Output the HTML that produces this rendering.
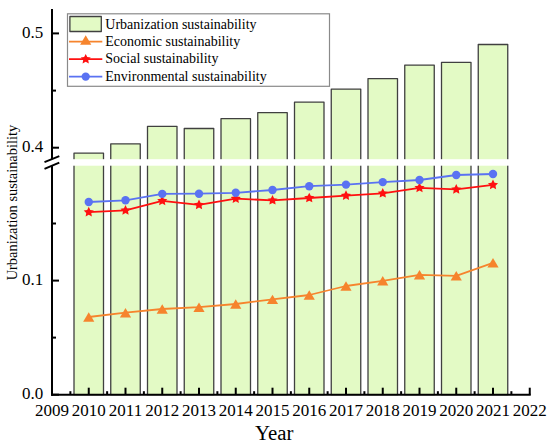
<!DOCTYPE html>
<html><head><meta charset="utf-8"><style>
html,body{margin:0;padding:0;background:#fff;}
body{width:550px;height:445px;overflow:hidden;}
svg{display:block;font-family:"Liberation Serif",serif;}
</style></head><body>
<svg width="550" height="445" viewBox="0 0 550 445">
<rect x="0" y="0" width="550" height="445" fill="#fff"/>
<rect x="74.00" y="153.10" width="29.50" height="241.60" fill="#E3FAC5" stroke="#404040" stroke-width="1.3" stroke-linejoin="round"/>
<rect x="110.75" y="143.80" width="29.50" height="250.90" fill="#E3FAC5" stroke="#404040" stroke-width="1.3" stroke-linejoin="round"/>
<rect x="147.50" y="126.30" width="29.50" height="268.40" fill="#E3FAC5" stroke="#404040" stroke-width="1.3" stroke-linejoin="round"/>
<rect x="184.25" y="128.50" width="29.50" height="266.20" fill="#E3FAC5" stroke="#404040" stroke-width="1.3" stroke-linejoin="round"/>
<rect x="221.00" y="118.70" width="29.50" height="276.00" fill="#E3FAC5" stroke="#404040" stroke-width="1.3" stroke-linejoin="round"/>
<rect x="257.75" y="112.70" width="29.50" height="282.00" fill="#E3FAC5" stroke="#404040" stroke-width="1.3" stroke-linejoin="round"/>
<rect x="294.50" y="102.10" width="29.50" height="292.60" fill="#E3FAC5" stroke="#404040" stroke-width="1.3" stroke-linejoin="round"/>
<rect x="331.25" y="89.10" width="29.50" height="305.60" fill="#E3FAC5" stroke="#404040" stroke-width="1.3" stroke-linejoin="round"/>
<rect x="368.00" y="78.60" width="29.50" height="316.10" fill="#E3FAC5" stroke="#404040" stroke-width="1.3" stroke-linejoin="round"/>
<rect x="404.75" y="65.10" width="29.50" height="329.60" fill="#E3FAC5" stroke="#404040" stroke-width="1.3" stroke-linejoin="round"/>
<rect x="441.50" y="62.30" width="29.50" height="332.40" fill="#E3FAC5" stroke="#404040" stroke-width="1.3" stroke-linejoin="round"/>
<rect x="478.25" y="44.50" width="29.50" height="350.20" fill="#E3FAC5" stroke="#404040" stroke-width="1.3" stroke-linejoin="round"/>
<rect x="56" y="159.2" width="470" height="6.50" fill="#fff"/>
<polyline points="88.75,317.00 125.50,312.70 162.25,309.00 199.00,307.20 235.75,304.00 272.50,299.40 309.25,295.00 346.00,286.00 382.75,280.80 419.50,274.80 456.25,275.80 493.00,262.80" fill="none" stroke="#F6842D" stroke-width="1.8" stroke-linejoin="round"/>
<path d="M88.75,312.30 L94.35,321.70 L83.15,321.70Z" fill="#F6842D"/>
<path d="M125.50,308.00 L131.10,317.40 L119.90,317.40Z" fill="#F6842D"/>
<path d="M162.25,304.30 L167.85,313.70 L156.65,313.70Z" fill="#F6842D"/>
<path d="M199.00,302.50 L204.60,311.90 L193.40,311.90Z" fill="#F6842D"/>
<path d="M235.75,299.30 L241.35,308.70 L230.15,308.70Z" fill="#F6842D"/>
<path d="M272.50,294.70 L278.10,304.10 L266.90,304.10Z" fill="#F6842D"/>
<path d="M309.25,290.30 L314.85,299.70 L303.65,299.70Z" fill="#F6842D"/>
<path d="M346.00,281.30 L351.60,290.70 L340.40,290.70Z" fill="#F6842D"/>
<path d="M382.75,276.10 L388.35,285.50 L377.15,285.50Z" fill="#F6842D"/>
<path d="M419.50,270.10 L425.10,279.50 L413.90,279.50Z" fill="#F6842D"/>
<path d="M456.25,271.10 L461.85,280.50 L450.65,280.50Z" fill="#F6842D"/>
<path d="M493.00,258.10 L498.60,267.50 L487.40,267.50Z" fill="#F6842D"/>
<polyline points="88.75,212.10 125.50,210.40 162.25,200.90 199.00,204.90 235.75,198.70 272.50,200.30 309.25,198.00 346.00,195.60 382.75,193.30 419.50,187.90 456.25,189.40 493.00,184.90" fill="none" stroke="#FF1010" stroke-width="1.8" stroke-linejoin="round"/>
<path d="M88.75,206.80 L90.31,209.96 L93.79,210.46 L91.27,212.92 L91.87,216.39 L88.75,214.75 L85.63,216.39 L86.23,212.92 L83.71,210.46 L87.19,209.96Z" fill="#FF1010"/>
<path d="M125.50,205.10 L127.06,208.26 L130.54,208.76 L128.02,211.22 L128.62,214.69 L125.50,213.05 L122.38,214.69 L122.98,211.22 L120.46,208.76 L123.94,208.26Z" fill="#FF1010"/>
<path d="M162.25,195.60 L163.81,198.76 L167.29,199.26 L164.77,201.72 L165.37,205.19 L162.25,203.55 L159.13,205.19 L159.73,201.72 L157.21,199.26 L160.69,198.76Z" fill="#FF1010"/>
<path d="M199.00,199.60 L200.56,202.76 L204.04,203.26 L201.52,205.72 L202.12,209.19 L199.00,207.55 L195.88,209.19 L196.48,205.72 L193.96,203.26 L197.44,202.76Z" fill="#FF1010"/>
<path d="M235.75,193.40 L237.31,196.56 L240.79,197.06 L238.27,199.52 L238.87,202.99 L235.75,201.35 L232.63,202.99 L233.23,199.52 L230.71,197.06 L234.19,196.56Z" fill="#FF1010"/>
<path d="M272.50,195.00 L274.06,198.16 L277.54,198.66 L275.02,201.12 L275.62,204.59 L272.50,202.95 L269.38,204.59 L269.98,201.12 L267.46,198.66 L270.94,198.16Z" fill="#FF1010"/>
<path d="M309.25,192.70 L310.81,195.86 L314.29,196.36 L311.77,198.82 L312.37,202.29 L309.25,200.65 L306.13,202.29 L306.73,198.82 L304.21,196.36 L307.69,195.86Z" fill="#FF1010"/>
<path d="M346.00,190.30 L347.56,193.46 L351.04,193.96 L348.52,196.42 L349.12,199.89 L346.00,198.25 L342.88,199.89 L343.48,196.42 L340.96,193.96 L344.44,193.46Z" fill="#FF1010"/>
<path d="M382.75,188.00 L384.31,191.16 L387.79,191.66 L385.27,194.12 L385.87,197.59 L382.75,195.95 L379.63,197.59 L380.23,194.12 L377.71,191.66 L381.19,191.16Z" fill="#FF1010"/>
<path d="M419.50,182.60 L421.06,185.76 L424.54,186.26 L422.02,188.72 L422.62,192.19 L419.50,190.55 L416.38,192.19 L416.98,188.72 L414.46,186.26 L417.94,185.76Z" fill="#FF1010"/>
<path d="M456.25,184.10 L457.81,187.26 L461.29,187.76 L458.77,190.22 L459.37,193.69 L456.25,192.05 L453.13,193.69 L453.73,190.22 L451.21,187.76 L454.69,187.26Z" fill="#FF1010"/>
<path d="M493.00,179.60 L494.56,182.76 L498.04,183.26 L495.52,185.72 L496.12,189.19 L493.00,187.55 L489.88,189.19 L490.48,185.72 L487.96,183.26 L491.44,182.76Z" fill="#FF1010"/>
<polyline points="88.75,202.00 125.50,200.30 162.25,193.90 199.00,193.70 235.75,192.80 272.50,190.00 309.25,186.20 346.00,184.60 382.75,182.10 419.50,180.00 456.25,175.00 493.00,174.00" fill="none" stroke="#5A72F2" stroke-width="1.8" stroke-linejoin="round"/>
<circle cx="88.75" cy="202.00" r="4.2" fill="#5A72F2"/>
<circle cx="125.50" cy="200.30" r="4.2" fill="#5A72F2"/>
<circle cx="162.25" cy="193.90" r="4.2" fill="#5A72F2"/>
<circle cx="199.00" cy="193.70" r="4.2" fill="#5A72F2"/>
<circle cx="235.75" cy="192.80" r="4.2" fill="#5A72F2"/>
<circle cx="272.50" cy="190.00" r="4.2" fill="#5A72F2"/>
<circle cx="309.25" cy="186.20" r="4.2" fill="#5A72F2"/>
<circle cx="346.00" cy="184.60" r="4.2" fill="#5A72F2"/>
<circle cx="382.75" cy="182.10" r="4.2" fill="#5A72F2"/>
<circle cx="419.50" cy="180.00" r="4.2" fill="#5A72F2"/>
<circle cx="456.25" cy="175.00" r="4.2" fill="#5A72F2"/>
<circle cx="493.00" cy="174.00" r="4.2" fill="#5A72F2"/>
<line x1="52" y1="9" x2="52" y2="159.2" stroke="#000" stroke-width="2"/>
<line x1="52" y1="165.7" x2="52" y2="395.7" stroke="#000" stroke-width="2"/>
<line x1="51" y1="394.7" x2="530.75" y2="394.7" stroke="#000" stroke-width="2"/>
<line x1="52" y1="394.7" x2="59" y2="394.7" stroke="#000" stroke-width="2"/>
<line x1="52" y1="280.6" x2="59" y2="280.6" stroke="#000" stroke-width="2"/>
<line x1="52" y1="147.7" x2="59" y2="147.7" stroke="#000" stroke-width="2"/>
<line x1="52" y1="33.4" x2="59" y2="33.4" stroke="#000" stroke-width="2"/>
<line x1="52" y1="337.6" x2="56" y2="337.6" stroke="#000" stroke-width="2"/>
<line x1="52" y1="223.5" x2="56" y2="223.5" stroke="#000" stroke-width="2"/>
<line x1="52" y1="90.6" x2="56" y2="90.6" stroke="#000" stroke-width="2"/>
<line x1="44.5" y1="162.1" x2="59.3" y2="156.1" stroke="#000" stroke-width="2"/>
<line x1="44.5" y1="168.9" x2="59.3" y2="162.6" stroke="#000" stroke-width="2"/>
<line x1="52.00" y1="394.7" x2="52.00" y2="387.70" stroke="#000" stroke-width="2"/>
<line x1="88.75" y1="394.7" x2="88.75" y2="387.70" stroke="#000" stroke-width="2"/>
<line x1="125.50" y1="394.7" x2="125.50" y2="387.70" stroke="#000" stroke-width="2"/>
<line x1="162.25" y1="394.7" x2="162.25" y2="387.70" stroke="#000" stroke-width="2"/>
<line x1="199.00" y1="394.7" x2="199.00" y2="387.70" stroke="#000" stroke-width="2"/>
<line x1="235.75" y1="394.7" x2="235.75" y2="387.70" stroke="#000" stroke-width="2"/>
<line x1="272.50" y1="394.7" x2="272.50" y2="387.70" stroke="#000" stroke-width="2"/>
<line x1="309.25" y1="394.7" x2="309.25" y2="387.70" stroke="#000" stroke-width="2"/>
<line x1="346.00" y1="394.7" x2="346.00" y2="387.70" stroke="#000" stroke-width="2"/>
<line x1="382.75" y1="394.7" x2="382.75" y2="387.70" stroke="#000" stroke-width="2"/>
<line x1="419.50" y1="394.7" x2="419.50" y2="387.70" stroke="#000" stroke-width="2"/>
<line x1="456.25" y1="394.7" x2="456.25" y2="387.70" stroke="#000" stroke-width="2"/>
<line x1="493.00" y1="394.7" x2="493.00" y2="387.70" stroke="#000" stroke-width="2"/>
<line x1="529.75" y1="394.7" x2="529.75" y2="387.70" stroke="#000" stroke-width="2"/>
<line x1="70.38" y1="394.7" x2="70.38" y2="391.20" stroke="#000" stroke-width="2"/>
<line x1="107.12" y1="394.7" x2="107.12" y2="391.20" stroke="#000" stroke-width="2"/>
<line x1="143.88" y1="394.7" x2="143.88" y2="391.20" stroke="#000" stroke-width="2"/>
<line x1="180.62" y1="394.7" x2="180.62" y2="391.20" stroke="#000" stroke-width="2"/>
<line x1="217.38" y1="394.7" x2="217.38" y2="391.20" stroke="#000" stroke-width="2"/>
<line x1="254.12" y1="394.7" x2="254.12" y2="391.20" stroke="#000" stroke-width="2"/>
<line x1="290.88" y1="394.7" x2="290.88" y2="391.20" stroke="#000" stroke-width="2"/>
<line x1="327.62" y1="394.7" x2="327.62" y2="391.20" stroke="#000" stroke-width="2"/>
<line x1="364.38" y1="394.7" x2="364.38" y2="391.20" stroke="#000" stroke-width="2"/>
<line x1="401.12" y1="394.7" x2="401.12" y2="391.20" stroke="#000" stroke-width="2"/>
<line x1="437.88" y1="394.7" x2="437.88" y2="391.20" stroke="#000" stroke-width="2"/>
<line x1="474.62" y1="394.7" x2="474.62" y2="391.20" stroke="#000" stroke-width="2"/>
<line x1="511.38" y1="394.7" x2="511.38" y2="391.20" stroke="#000" stroke-width="2"/>
<text transform="translate(43.3,399.20) scale(1,1.04)" text-anchor="end" font-size="17">0.0</text>
<text transform="translate(43.3,285.10) scale(1,1.04)" text-anchor="end" font-size="17">0.1</text>
<text transform="translate(43.3,152.20) scale(1,1.04)" text-anchor="end" font-size="17">0.4</text>
<text transform="translate(43.3,37.90) scale(1,1.04)" text-anchor="end" font-size="17">0.5</text>
<text transform="translate(52.00,416.1) scale(1,1.04)" text-anchor="middle" font-size="17">2009</text>
<text transform="translate(88.75,416.1) scale(1,1.04)" text-anchor="middle" font-size="17">2010</text>
<text transform="translate(125.50,416.1) scale(1,1.04)" text-anchor="middle" font-size="17">2011</text>
<text transform="translate(162.25,416.1) scale(1,1.04)" text-anchor="middle" font-size="17">2012</text>
<text transform="translate(199.00,416.1) scale(1,1.04)" text-anchor="middle" font-size="17">2013</text>
<text transform="translate(235.75,416.1) scale(1,1.04)" text-anchor="middle" font-size="17">2014</text>
<text transform="translate(272.50,416.1) scale(1,1.04)" text-anchor="middle" font-size="17">2015</text>
<text transform="translate(309.25,416.1) scale(1,1.04)" text-anchor="middle" font-size="17">2016</text>
<text transform="translate(346.00,416.1) scale(1,1.04)" text-anchor="middle" font-size="17">2017</text>
<text transform="translate(382.75,416.1) scale(1,1.04)" text-anchor="middle" font-size="17">2018</text>
<text transform="translate(419.50,416.1) scale(1,1.04)" text-anchor="middle" font-size="17">2019</text>
<text transform="translate(456.25,416.1) scale(1,1.04)" text-anchor="middle" font-size="17">2020</text>
<text transform="translate(493.00,416.1) scale(1,1.04)" text-anchor="middle" font-size="17">2021</text>
<text transform="translate(529.75,416.1) scale(1,1.04)" text-anchor="middle" font-size="17">2022</text>
<text x="274.2" y="440.3" text-anchor="middle" font-size="20.8">Year</text>
<text transform="translate(16.6,202.6) rotate(-90)" x="0" y="0" text-anchor="middle" font-size="14.4">Urbanization sustainability</text>
<rect x="67.5" y="13.8" width="262" height="72.5" fill="#fff" stroke="#8a8a8a" stroke-width="1.2"/>
<rect x="69.9" y="16.5" width="31.4" height="15.0" fill="#E3FAC5" stroke="#404040" stroke-width="1.3" stroke-linejoin="round"/>
<line x1="69" y1="41.6" x2="102.3" y2="41.6" stroke="#F6842D" stroke-width="1.8"/>
<path d="M85.70,35.30 L91.30,44.70 L80.10,44.70Z" fill="#F6842D"/>
<line x1="69" y1="59.1" x2="102.3" y2="59.1" stroke="#FF1010" stroke-width="1.8"/>
<path d="M85.70,53.90 L87.26,57.06 L90.74,57.56 L88.22,60.02 L88.82,63.49 L85.70,61.85 L82.58,63.49 L83.18,60.02 L80.66,57.56 L84.14,57.06Z" fill="#FF1010"/>
<line x1="69" y1="76.6" x2="102.3" y2="76.6" stroke="#5A72F2" stroke-width="1.8"/>
<circle cx="85.7" cy="76.6" r="4.2" fill="#5A72F2"/>
<text x="105.3" y="28.6" font-size="14">Urbanization sustainability</text>
<text x="105.3" y="46.0" font-size="14">Economic sustainability</text>
<text x="105.3" y="63.4" font-size="14">Social sustainability</text>
<text x="105.3" y="80.6" font-size="14">Environmental sustainability</text>
</svg>
</body></html>
